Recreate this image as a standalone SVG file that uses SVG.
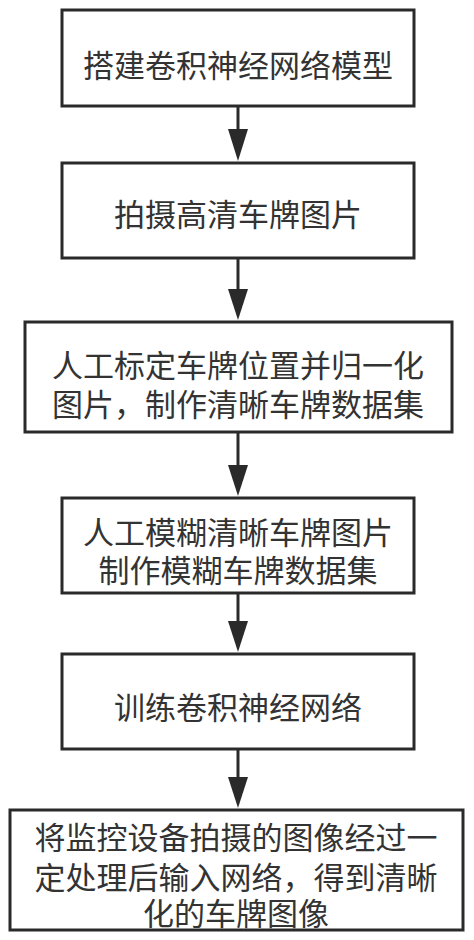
<svg xmlns="http://www.w3.org/2000/svg" width="474" height="940" viewBox="0 0 474 940">
<style>
.box{fill:#fff;stroke:#2a2a2a;stroke-width:3}
.t{font-family:"Noto Sans CJK SC","Noto Sans",sans-serif;font-size:31px;fill:#333;text-anchor:middle;dominant-baseline:central}
.c{stroke:#2a2a2a;stroke-width:3;fill:none}
.h{fill:#2a2a2a}
</style>
<rect width="474" height="940" fill="#fff"/>
<g id="connectors">
<line class="c" x1="238" y1="106" x2="238" y2="132"/><polygon class="h" points="228,129 248,129 238,161"/>
<line class="c" x1="238" y1="258" x2="238" y2="292"/><polygon class="h" points="228,289 248,289 238,320"/>
<line class="c" x1="238" y1="432" x2="238" y2="468"/><polygon class="h" points="228,465 248,465 238,496"/>
<line class="c" x1="238" y1="593" x2="238" y2="624"/><polygon class="h" points="228,621 248,621 238,652"/>
<line class="c" x1="238" y1="749" x2="238" y2="780"/><polygon class="h" points="228,777 248,777 238,808"/>
</g>
<g id="n1"><rect class="box" x="62" y="10" width="352" height="96"/><text class="t" x="238" y="63">搭建卷积神经网络模型</text></g>
<g id="n2"><rect class="box" x="62" y="163" width="352" height="95"/><text class="t" x="238" y="212">拍摄高清车牌图片</text></g>
<g id="n3"><rect class="box" x="25" y="322" width="427" height="110"/><text class="t" x="238" y="363">人工标定车牌位置并归一化</text><text class="t" x="238" y="402">图片，制作清晰车牌数据集</text></g>
<g id="n4"><rect class="box" x="62" y="498" width="352" height="95"/><text class="t" x="238" y="530">人工模糊清晰车牌图片</text><text class="t" x="238" y="568">制作模糊车牌数据集</text></g>
<g id="n5"><rect class="box" x="62" y="654" width="352" height="95"/><text class="t" x="238" y="705">训练卷积神经网络</text></g>
<g id="n6"><rect class="box" x="10" y="810" width="453" height="120"/><text class="t" x="236" y="835">将监控设备拍摄的图像经过一</text><text class="t" x="236" y="875">定处理后输入网络，得到清晰</text><text class="t" x="236" y="911">化的车牌图像</text></g>
</svg>
